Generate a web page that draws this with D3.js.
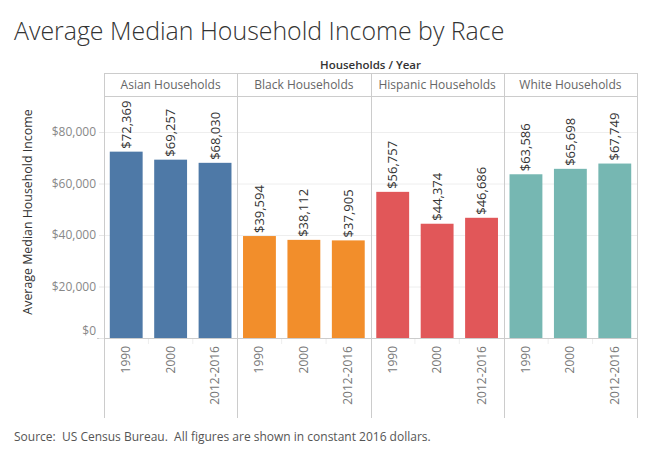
<!DOCTYPE html>
<html>
<head>
<meta charset="utf-8">
<script src="https://cdn.jsdelivr.net/npm/d3@7"></script>
<style>
  body { margin: 0; background: #fff; }
  text { font-family: "Open Sans", "Noto Sans", sans-serif; white-space: pre; }
</style>
</head>
<body>
<svg id="chart" width="650" height="460"></svg>
<script>
// data
const races = ["Asian Households", "Black Households", "Hispanic Households", "White Households"];
const years = ["1990", "2000", "2012-2016"];
const asian = [72369, 69257, 68030];
const black = [39594, 38112, 37905];
const hispanic = [56757, 44374, 46686];
const white = [63586, 65698, 67749];
const colors = ["#4e79a7", "#f28e2b", "#e15759", "#76b7b2"];
const yTicks = [0, 20000, 40000, 60000, 80000];

const series = [asian, black, hispanic, white];

const svg = d3.select("#chart");

// layout
const left = 104, right = 637;
const headTop = 73, plotTop = 96, plotBottom = 338, bottom = 418;

const xPanel = d3.scaleBand().domain(races).range([left, right]);
const xYear = d3.scaleBand().domain(years).range([0, xPanel.bandwidth()]).paddingInner(0.26).paddingOuter(0.13);
const y = d3.scaleLinear().domain([0, 80000]).range([plotBottom, 132]);

const fmt = d3.format("$,");

// title
svg.append("text")
  .attr("x", 14).attr("y", 40)
  .attr("font-size", 24.9).attr("font-weight", 300)
  .attr("fill", "#333")
  .text("Average Median Household Income by Race");

svg.append("text")
  .attr("x", (left + right) / 2).attr("y", 69)
  .attr("text-anchor", "middle")
  .attr("font-size", 11.5).attr("font-weight", 600)
  .attr("fill", "#333")
  .text("Households / Year");

// gridlines
svg.append("g").selectAll("line")
  .data(yTicks.slice(1))
  .join("line")
  .attr("x1", left).attr("x2", right)
  .attr("y1", d => y(d) + 0.5).attr("y2", d => y(d) + 0.5)
  .attr("stroke", "#eeeeee");

// bars per panel
races.forEach((r, i) => {
  const g = svg.append("g").attr("transform", `translate(${xPanel(r)},0)`);
  const vals = series[i].map((v, j) => ({ year: years[j], v: v }));

  g.selectAll("rect")
    .data(vals)
    .join("rect")
    .attr("x", d => xYear(d.year))
    .attr("y", d => y(d.v))
    .attr("width", xYear.bandwidth())
    .attr("height", d => y(0) - y(d.v))
    .attr("fill", colors[i]);

  g.selectAll("text.val")
    .data(vals)
    .join("text")
    .attr("class", "val")
    .attr("transform", d => `translate(${xYear(d.year) + xYear.bandwidth() / 2 + 4.5},${y(d.v) - 3}) rotate(-90)`)
    .attr("font-size", 13)
    .attr("fill", "#333")
    .text(d => fmt(d.v));

  g.selectAll("text.yr")
    .data(years)
    .join("text")
    .attr("class", "yr")
    .attr("transform", d => `translate(${xYear(d) + xYear.bandwidth() / 2 + 4},${plotBottom + 8}) rotate(-90)`)
    .attr("text-anchor", "end")
    .attr("font-size", 12)
    .attr("fill", "#777")
    .text(d => d);

  // small separators between year columns below the baseline
  g.selectAll("line.sep")
    .data(years.slice(1))
    .join("line")
    .attr("class", "sep")
    .attr("x1", d => xYear(d) - xYear.step() * xYear.paddingInner() / 2)
    .attr("x2", d => xYear(d) - xYear.step() * xYear.paddingInner() / 2)
    .attr("y1", plotBottom).attr("y2", plotBottom + 6)
    .attr("stroke", "#eeeeee");

  svg.append("text")
    .attr("x", xPanel(r) + xPanel.bandwidth() / 2).attr("y", 89)
    .attr("text-anchor", "middle")
    .attr("font-size", 12)
    .attr("fill", "#666")
    .text(r);
});

// frame lines
const frame = svg.append("g").attr("stroke", "#cccccc").attr("fill", "none");
frame.append("line").attr("x1", left).attr("x2", right).attr("y1", headTop + 0.5).attr("y2", headTop + 0.5);
frame.append("line").attr("x1", left).attr("x2", right).attr("y1", plotTop + 0.5).attr("y2", plotTop + 0.5);
frame.append("line").attr("x1", 97).attr("x2", right).attr("y1", plotBottom + 0.5).attr("y2", plotBottom + 0.5);
frame.selectAll("line.v")
  .data(races.map(r => xPanel(r)).concat([right]))
  .join("line")
  .attr("class", "v")
  .attr("x1", d => Math.round(d) + 0.5).attr("x2", d => Math.round(d) + 0.5)
  .attr("y1", headTop).attr("y2", bottom);

// y axis
const yAxis = svg.append("g").attr("transform", `translate(${left},0)`)
  .call(d3.axisLeft(y).tickValues(yTicks).tickFormat(fmt).tickSize(5).tickPadding(3));
yAxis.select(".domain").remove();
yAxis.selectAll(".tick line").attr("stroke", "#e6e6e6");
yAxis.selectAll(".tick text")
  .attr("font-size", 12)
  .attr("fill", "#888")
  .attr("font-family", null)
  .attr("dy", d => d === 0 ? "-0.3em" : "0.32em");

svg.append("text")
  .attr("transform", `translate(32,212) rotate(-90)`)
  .attr("text-anchor", "middle")
  .attr("font-size", 12.4)
  .attr("fill", "#333")
  .text("Average Median Household Income");

// source
svg.append("text")
  .attr("x", 14).attr("y", 441)
  .attr("font-size", 12)
  .attr("fill", "#555")
  .text("Source:  US Census Bureau.  All figures are shown in constant 2016 dollars.");
</script>
</body>
</html>
